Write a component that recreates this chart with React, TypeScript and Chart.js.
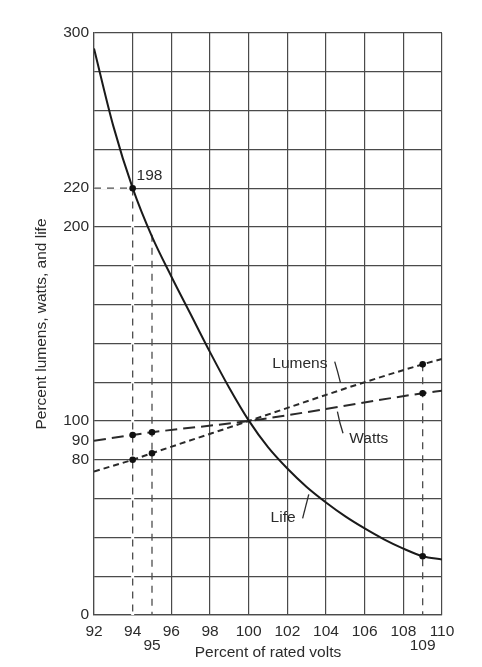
import { useEffect, useRef } from 'react';
import { Chart, registerables } from 'chart.js';

Chart.register(...registerables);

// Life curve, read at every 1 % of rated volts
const lifeVolts = [92, 93, 94, 95, 96, 97, 98, 99, 100, 101, 102, 103, 104, 105, 106, 107, 108, 109, 110];
const lifePercent = [292, 252, 220, 195, 174.5, 155, 135.5, 117, 100.3, 86.5, 75.5, 66, 58, 50.8, 44.6, 39, 34.2, 30.3, 28.6];

const lumensVolts = [92, 94, 95, 100, 106, 109, 110];
const lumensPercent = [74, 80, 83.4, 100, 120, 129.2, 132];

const wattsVolts = [92, 94, 95, 100, 109, 110];
const wattsPercent = [89.8, 92.8, 94.2, 100, 114.3, 115.6];

const markerVolts = [94, 94, 95, 94, 95, 109, 109, 109];
const markerPercent = [220, 92.8, 94.2, 80, 83.4, 129.2, 114.3, 30.3];

// dashed read-off lines
const guide94Volts = [92, 94, 94];
const guide94Percent = [220, 220, 0];
const guide95Volts = [95, 95];
const guide95Percent = [196, 0];
const guide109Volts = [109, 109];
const guide109Percent = [129.2, 0];

const xGridTicks = [92, 94, 96, 98, 100, 102, 104, 106, 108, 110];
const xExtraTicks = [95, 109];
const yGridTicks = [0, 20, 40, 60, 80, 100, 120, 140, 160, 180, 200, 220, 240, 260, 280, 300];
const yLabelTicks = [0, 80, 90, 100, 200, 220, 300];

// callouts, placed in data units
const notes = [
  { text: '198', x: 94.87, y: 226.4, leader: null },
  { text: 'Lumens', x: 102.65, y: 129.7, leader: [[104.45, 130.6], [104.62, 125], [104.75, 119.7]] },
  { text: 'Watts', x: 106.21, y: 90.7, leader: [[104.88, 93.7], [104.7, 99], [104.59, 104.8]] },
  { text: 'Life', x: 101.78, y: 50, leader: [[102.79, 49.8], [102.95, 56], [103.11, 62.2]] },
];

const FONT = "'Liberation Sans', Arial, Helvetica, sans-serif";
const INK = '#2b2b2b';
const GRID = '#4a4a4a';

const pts = (xs: number[], ys: number[]) => xs.map((x, i) => ({ x, y: ys[i] }));

const notesPlugin = {
  id: 'notes',
  afterDatasetsDraw(chart: any) {
    const { ctx, scales } = chart;
    const x = scales.x;
    const y = scales.y;
    ctx.save();
    ctx.font = `15.5px ${FONT}`;
    ctx.fillStyle = INK;
    ctx.textAlign = 'center';
    ctx.textBaseline = 'middle';
    notes.forEach((n) => {
      ctx.fillText(n.text, x.getPixelForValue(n.x), y.getPixelForValue(n.y));
      if (n.leader) {
        ctx.strokeStyle = INK;
        ctx.lineWidth = 1.3;
        ctx.beginPath();
        const [a, b, c] = n.leader;
        ctx.moveTo(x.getPixelForValue(a[0]), y.getPixelForValue(a[1]));
        ctx.quadraticCurveTo(
          x.getPixelForValue(b[0]), y.getPixelForValue(b[1]),
          x.getPixelForValue(c[0]), y.getPixelForValue(c[1])
        );
        ctx.stroke();
      }
    });
    ctx.restore();
  },
};

const App = () => {
  const chartRef = useRef<HTMLCanvasElement | null>(null);

  useEffect(() => {
    const ctx = chartRef.current?.getContext('2d');
    if (!ctx) return;

    Chart.defaults.font.family = FONT;
    Chart.defaults.color = INK;

    const guideStyle = {
      borderColor: '#4d4d4d',
      borderWidth: 1.3,
      borderDash: [7, 6],
      pointRadius: 0,
      tension: 0,
      fill: false,
    };

    const myChart = new Chart(ctx, {
      type: 'line',
      data: {
        datasets: [
          {
            label: 'markers',
            data: pts(markerVolts, markerPercent),
            showLine: false,
            pointRadius: 3.3,
            pointBackgroundColor: '#111',
            pointBorderColor: '#111',
            pointBorderWidth: 0,
          },
          {
            label: 'Life',
            data: pts(lifeVolts, lifePercent),
            borderColor: '#1a1a1a',
            borderWidth: 2,
            pointRadius: 0,
            cubicInterpolationMode: 'monotone',
            fill: false,
          },
          {
            label: 'Lumens',
            data: pts(lumensVolts, lumensPercent),
            borderColor: '#2a2a2a',
            borderWidth: 2,
            borderDash: [6, 4],
            pointRadius: 0,
            cubicInterpolationMode: 'monotone',
            fill: false,
          },
          {
            label: 'Watts',
            data: pts(wattsVolts, wattsPercent),
            borderColor: '#2a2a2a',
            borderWidth: 2,
            borderDash: [12, 6],
            pointRadius: 0,
            cubicInterpolationMode: 'monotone',
            fill: false,
          },
          { label: 'g94', data: pts(guide94Volts, guide94Percent), ...guideStyle },
          { label: 'g95', data: pts(guide95Volts, guide95Percent), ...guideStyle },
          { label: 'g109', data: pts(guide109Volts, guide109Percent), ...guideStyle },
          {
            // hides the grid under the 94 / 220 read-off line
            label: 'mask',
            data: pts(guide94Volts, guide94Percent),
            borderColor: '#ffffff',
            borderWidth: 3,
            pointRadius: 0,
            tension: 0,
            fill: false,
          },
        ],
      },
      options: {
        animation: false,
        responsive: true,
        maintainAspectRatio: false,
        layout: { padding: { top: 33, right: 40, left: 0, bottom: 0 } },
        plugins: {
          legend: { display: false },
          tooltip: { enabled: false },
        },
        scales: {
          x: {
            type: 'linear',
            min: 92,
            max: 110,
            afterBuildTicks: (scale: any) => {
              scale.ticks = [...xGridTicks, ...xExtraTicks].sort((a, b) => a - b).map((v) => ({ value: v }));
            },
            afterFit: (scale: any) => {
              scale.height = 52;
            },
            ticks: {
              autoSkip: false,
              maxRotation: 0,
              minRotation: 0,
              padding: 10,
              color: INK,
              font: { size: 15.5, lineHeight: 0.9 },
              callback: (v: any) => (xExtraTicks.includes(v) ? ['', String(v)] : String(v)),
            },
            grid: {
              drawTicks: false,
              lineWidth: 1.2,
              color: (c: any) => (xExtraTicks.includes(c.tick?.value) ? 'rgba(0,0,0,0)' : GRID),
            },
            border: { display: true, color: GRID, width: 1.2 },
            title: {
              display: true,
              text: 'Percent of rated volts',
              color: INK,
              font: { size: 15.5 },
              padding: { top: 0, bottom: 5 },
            },
          },
          y: {
            type: 'linear',
            min: 0,
            max: 300,
            afterBuildTicks: (scale: any) => {
              scale.ticks = [...yGridTicks, 90].sort((a, b) => a - b).map((v) => ({ value: v }));
            },
            afterFit: (scale: any) => {
              scale.width = 94;
            },
            ticks: {
              autoSkip: false,
              padding: 5,
              color: INK,
              font: { size: 15.5 },
              callback: (v: any) => (yLabelTicks.includes(v) ? String(v) : ''),
            },
            grid: {
              drawTicks: false,
              lineWidth: 1.2,
              color: (c: any) => (c.tick?.value === 90 ? 'rgba(0,0,0,0)' : GRID),
            },
            border: { display: true, color: GRID, width: 1.2 },
            title: {
              display: true,
              text: 'Percent lumens, watts, and life',
              color: INK,
              font: { size: 15.5 },
              padding: { top: 32, bottom: 0 },
            },
          },
        },
      },
      plugins: [notesPlugin],
    } as any);

    return () => {
      myChart.destroy();
    };
  }, []);

  return (
    <div style={{ position: 'absolute', left: 0, top: 0, width: 482, height: 667, background: '#fff' }}>
      <canvas ref={chartRef} id="lamp-chart" />
    </div>
  );
};

export default App;
